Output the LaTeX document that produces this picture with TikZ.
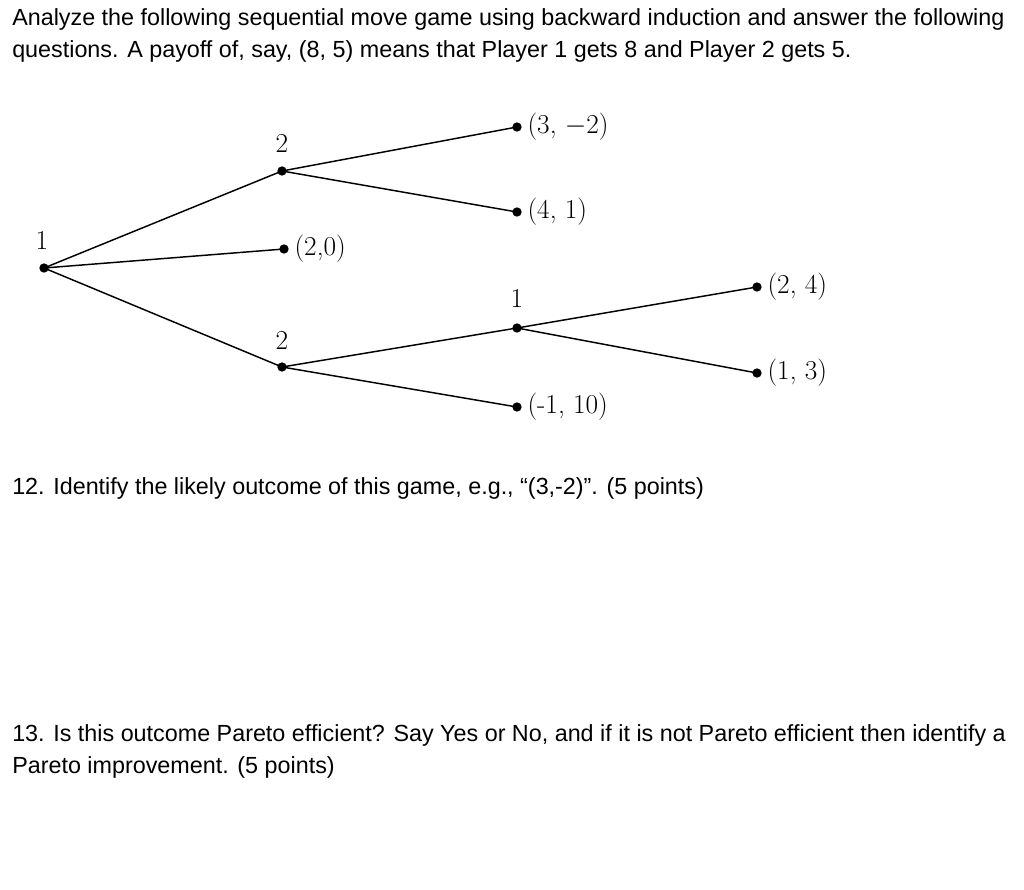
\documentclass[tikz,border=0pt]{standalone}
\usepackage{fontspec}
\newfontfamily\qfont{Liberation Sans}
\tikzset{
  dot/.style={circle, fill=black, inner sep=0pt, minimum size=7pt},
  payoff/.style={right, font=\fontsize{20.5}{22}\selectfont, inner sep=4pt},
  player/.style={font=\fontsize{20.5}{22}\selectfont},
  edge/.style={line width=1.1pt},
  question/.style={anchor=west, font=\qfont\fontsize{17.5}{24}\selectfont, inner sep=0pt, align=left}
}
\begin{document}
\begin{tikzpicture}[x=0.75pt, y=-0.75pt]
  \useasboundingbox (0,0) rectangle (1024,889);
  % text
  \node (q0) [question] at (12,35) {Analyze the following sequential move game using backward induction and answer the following\\questions. A payoff of, say, (8, 5) means that Player 1 gets 8 and Player 2 gets 5.};
  \node (q12) [question] at (12,488) {12. Identify the likely outcome of this game, e.g., “(3,-2)”. (5 points)};
  \node (q13) [question] at (12,751) {13. Is this outcome Pareto efficient? Say Yes or No, and if it is not Pareto efficient then identify a\\Pareto improvement. (5 points)};
  % decision nodes
  \node (root) [dot] at (44,268) {};
  \node (up) [dot] at (282,171) {};
  \node (down) [dot] at (282,367) {};
  \node (mid) [dot] at (517,328) {};
  % terminal nodes
  \node (t1) [dot] at (517,127) {};
  \node (t2) [dot] at (517,212) {};
  \node (t3) [dot] at (284,249) {};
  \node (t4) [dot] at (757,287) {};
  \node (t5) [dot] at (757,373) {};
  \node (t6) [dot] at (517,407) {};
  % labels
  \node (l-root) [player] at (42,240) {1};
  \node (l-up) [player] at (282,143) {2};
  \node (l-down) [player] at (282,340) {2};
  \node (l-mid) [player] at (517,298) {1};
  \node (p1) [payoff] at (t1.east) {(3, $-$2)};
  \node (p2) [payoff] at (t2.east) {(4, 1)};
  \node (p3) [payoff] at (t3.east) {(2,0)};
  \node (p4) [payoff] at (t4.east) {(2, 4)};
  \node (p5) [payoff] at (t5.east) {(1, 3)};
  \node (p6) [payoff] at (t6.east) {(-1, 10)};

  \draw [edge] (root.center) -- (up.center);
  \draw [edge] (root.center) -- (t3.center);
  \draw [edge] (root.center) -- (down.center);
  \draw [edge] (up.center) -- (t1.center);
  \draw [edge] (up.center) -- (t2.center);
  \draw [edge] (down.center) -- (mid.center);
  \draw [edge] (down.center) -- (t6.center);
  \draw [edge] (mid.center) -- (t4.center);
  \draw [edge] (mid.center) -- (t5.center);
\end{tikzpicture}
\end{document}
